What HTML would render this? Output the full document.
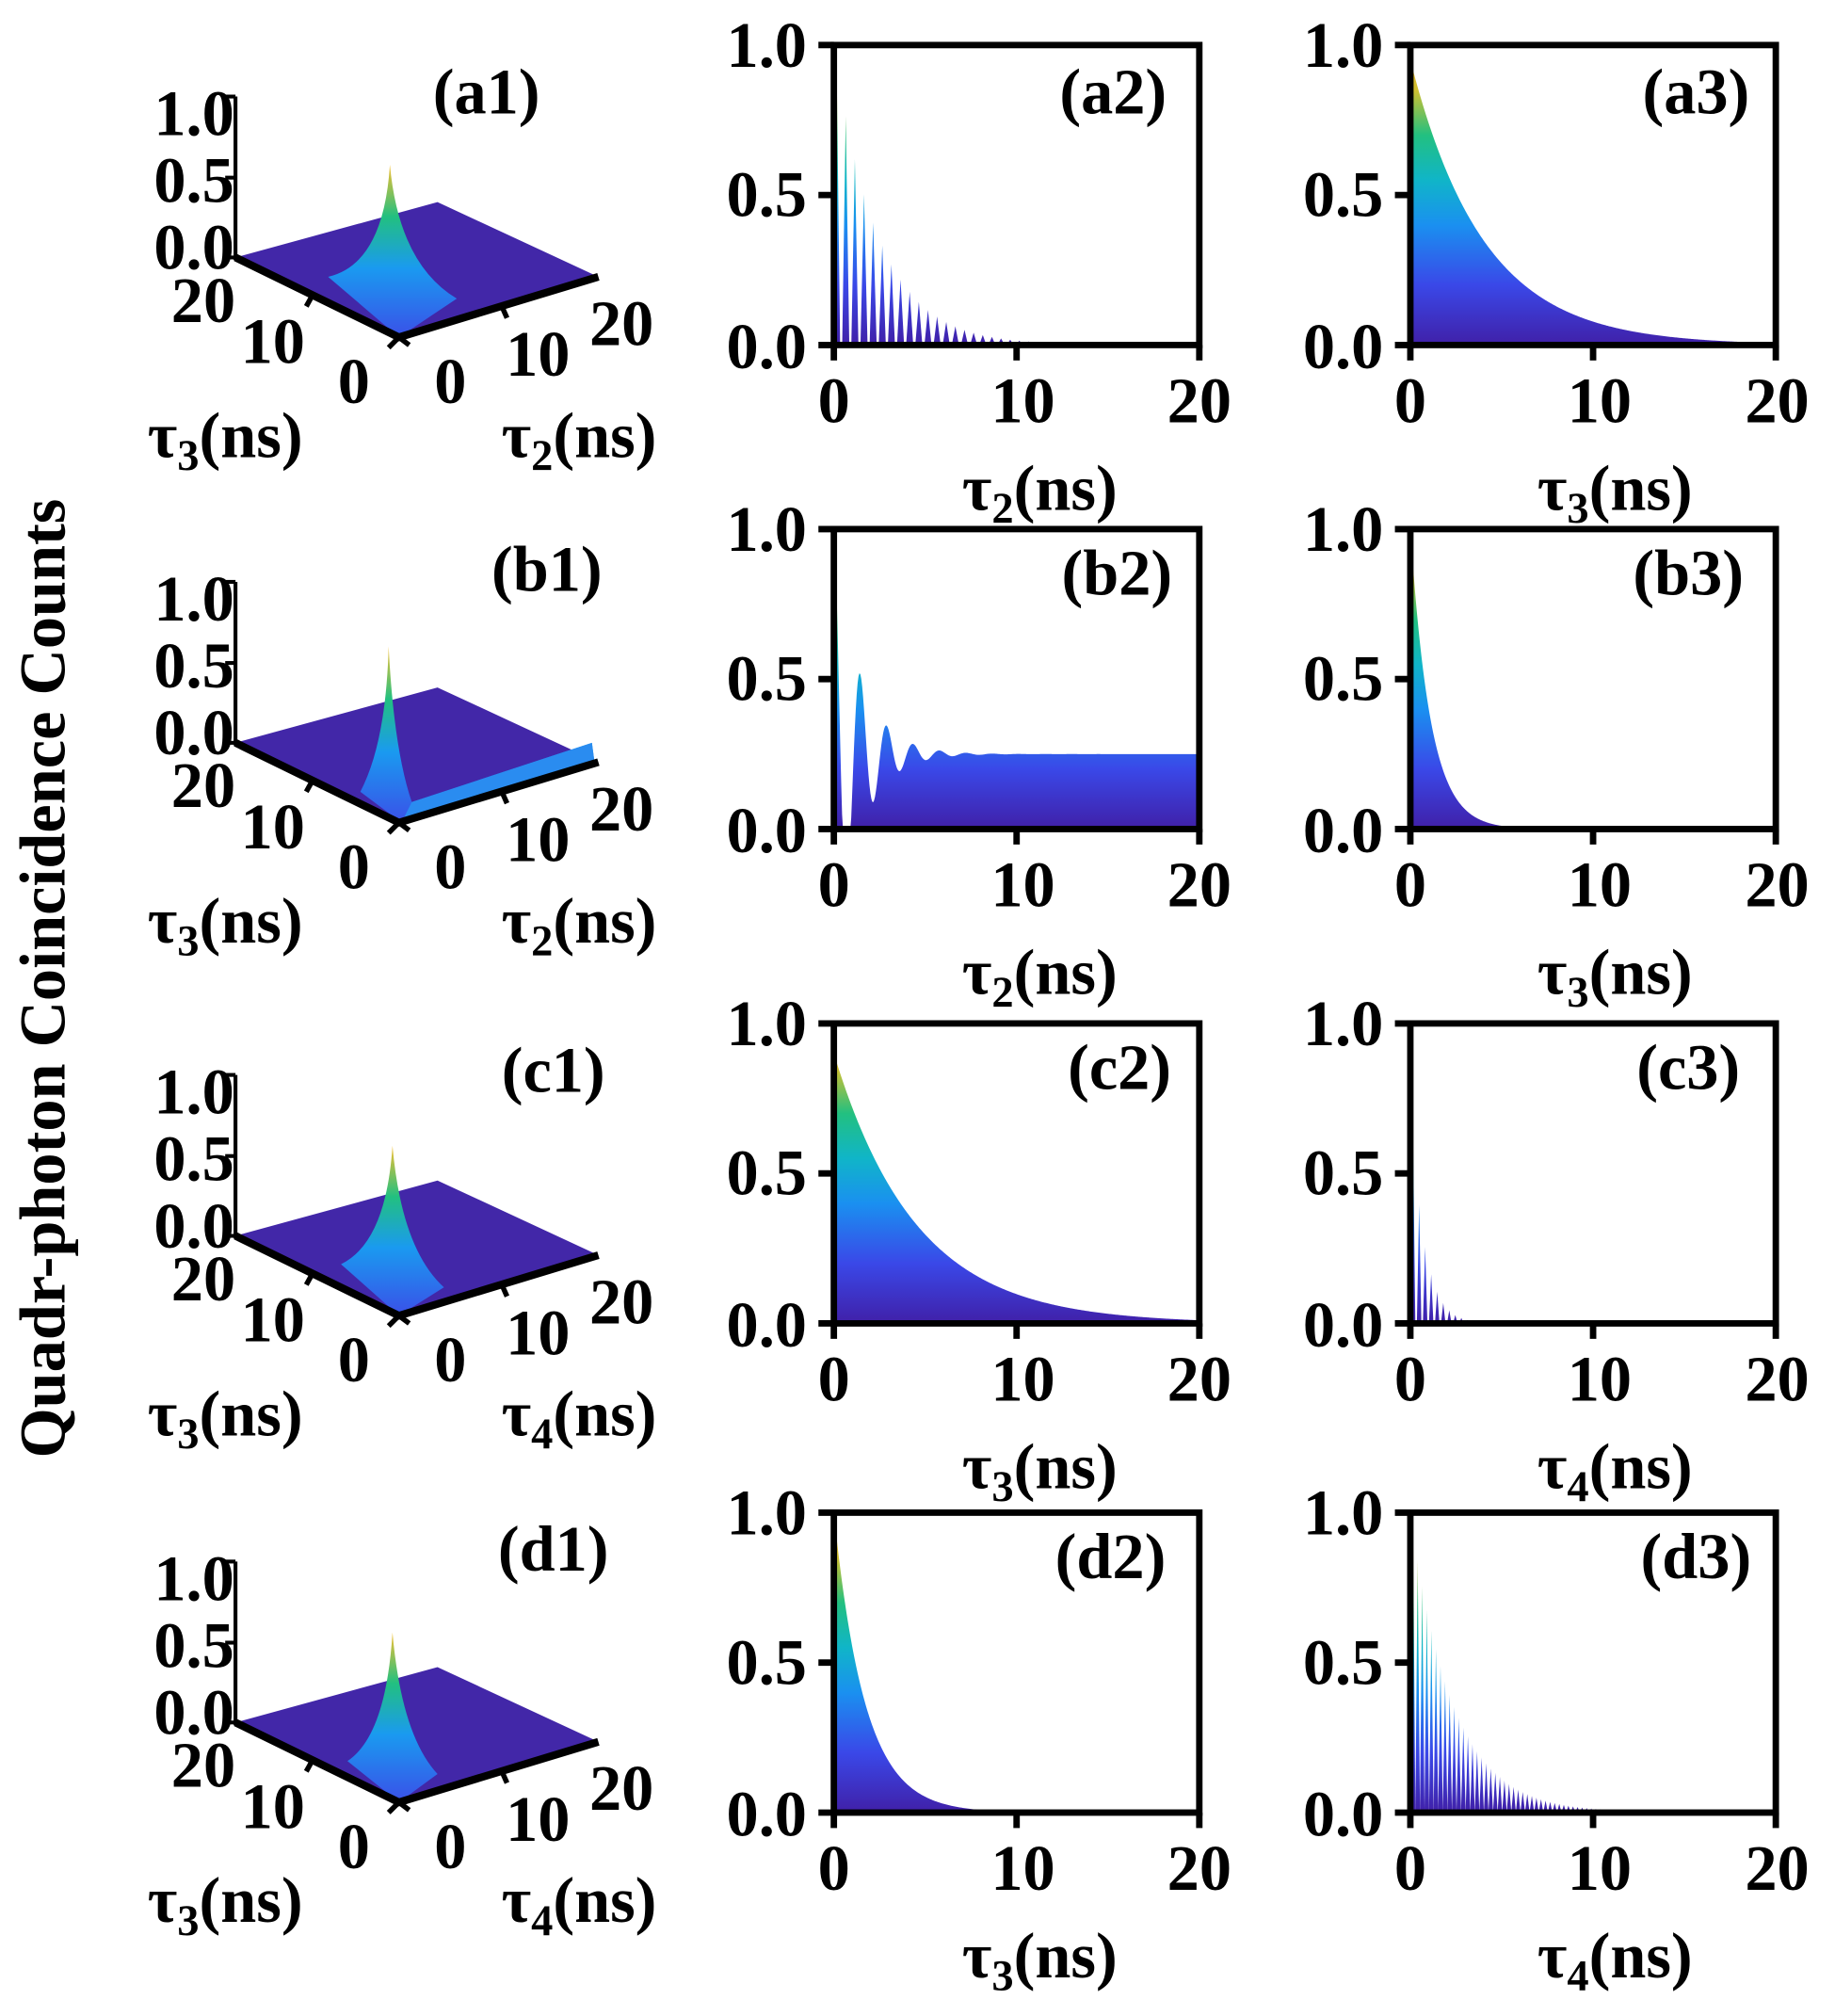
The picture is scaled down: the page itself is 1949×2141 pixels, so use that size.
<!DOCTYPE html>
<html><head><meta charset="utf-8"><style>
html,body{margin:0;padding:0;background:#fff;}
svg{display:block;}
text{font-family:"Liberation Serif",serif;font-weight:bold;fill:#000;}
</style></head><body>
<svg id="s" width="1949" height="2141" viewBox="0 0 1426 1566" preserveAspectRatio="none" xmlns="http://www.w3.org/2000/svg">
<defs>
<linearGradient id="g0" gradientUnits="userSpaceOnUse" x1="0" y1="268" x2="0" y2="35">
<stop offset="0" stop-color="#4020a8"/><stop offset="0.2" stop-color="#3a48e8"/><stop offset="0.4" stop-color="#1a90f0"/><stop offset="0.55" stop-color="#10b5c8"/><stop offset="0.7" stop-color="#22c080"/><stop offset="0.85" stop-color="#d0c030"/><stop offset="1" stop-color="#f8b030"/></linearGradient>
<linearGradient id="g1" href="#g0" gradientUnits="userSpaceOnUse" x1="0" y1="644" x2="0" y2="411"/>
<linearGradient id="g2" href="#g0" gradientUnits="userSpaceOnUse" x1="0" y1="1028" x2="0" y2="795"/>
<linearGradient id="g3" href="#g0" gradientUnits="userSpaceOnUse" x1="0" y1="1408" x2="0" y2="1175"/>
<linearGradient id="pk" x1="0" y1="1" x2="0" y2="0">
<stop offset="0" stop-color="#3a50e8"/><stop offset="0.4" stop-color="#1a9af0"/><stop offset="0.7" stop-color="#22c080"/><stop offset="1" stop-color="#f8c030"/></linearGradient>
</defs>
<g id="plots"></g>

<text transform="translate(50,760) rotate(-90)" font-size="50" text-anchor="middle">Quadr-photon Coincidence Counts</text>

<g font-size="50" text-anchor="end">
<text x="627" y="52">1.0</text><text x="627" y="168">0.5</text><text x="627" y="286">0.0</text>
<text x="1075" y="52">1.0</text><text x="1075" y="168">0.5</text><text x="1075" y="286">0.0</text>
<text x="627" y="428">1.0</text><text x="627" y="544">0.5</text><text x="627" y="662">0.0</text>
<text x="1075" y="428">1.0</text><text x="1075" y="544">0.5</text><text x="1075" y="662">0.0</text>
<text x="627" y="812">1.0</text><text x="627" y="928">0.5</text><text x="627" y="1046">0.0</text>
<text x="1075" y="812">1.0</text><text x="1075" y="928">0.5</text><text x="1075" y="1046">0.0</text>
<text x="627" y="1192">1.0</text><text x="627" y="1308">0.5</text><text x="627" y="1426">0.0</text>
<text x="1075" y="1192">1.0</text><text x="1075" y="1308">0.5</text><text x="1075" y="1426">0.0</text>
</g>
<g font-size="50" text-anchor="middle">
<text x="648" y="328">0</text><text x="795" y="328">10</text><text x="932" y="328">20</text>
<text x="1096" y="328">0</text><text x="1243" y="328">10</text><text x="1381" y="328">20</text>
<text x="648" y="704">0</text><text x="795" y="704">10</text><text x="932" y="704">20</text>
<text x="1096" y="704">0</text><text x="1243" y="704">10</text><text x="1381" y="704">20</text>
<text x="648" y="1088">0</text><text x="795" y="1088">10</text><text x="932" y="1088">20</text>
<text x="1096" y="1088">0</text><text x="1243" y="1088">10</text><text x="1381" y="1088">20</text>
<text x="648" y="1468">0</text><text x="795" y="1468">10</text><text x="932" y="1468">20</text>
<text x="1096" y="1468">0</text><text x="1243" y="1468">10</text><text x="1381" y="1468">20</text>
</g>
<g font-size="50" text-anchor="middle">
<text x="808" y="396">τ<tspan font-size="34" dy="10">2</tspan><tspan dy="-10">(ns)</tspan></text>
<text x="1255" y="396">τ<tspan font-size="34" dy="10">3</tspan><tspan dy="-10">(ns)</tspan></text>
<text x="808" y="772">τ<tspan font-size="34" dy="10">2</tspan><tspan dy="-10">(ns)</tspan></text>
<text x="1255" y="772">τ<tspan font-size="34" dy="10">3</tspan><tspan dy="-10">(ns)</tspan></text>
<text x="808" y="1156">τ<tspan font-size="34" dy="10">3</tspan><tspan dy="-10">(ns)</tspan></text>
<text x="1255" y="1156">τ<tspan font-size="34" dy="10">4</tspan><tspan dy="-10">(ns)</tspan></text>
<text x="808" y="1536">τ<tspan font-size="34" dy="10">3</tspan><tspan dy="-10">(ns)</tspan></text>
<text x="1255" y="1536">τ<tspan font-size="34" dy="10">4</tspan><tspan dy="-10">(ns)</tspan></text>
</g>
<g font-size="50" text-anchor="middle">
<text x="865" y="88">(a2)</text><text x="1318" y="88">(a3)</text>
<text x="868" y="462">(b2)</text><text x="1312" y="462">(b3)</text>
<text x="870" y="846">(c2)</text><text x="1312" y="846">(c3)</text>
<text x="863" y="1226">(d2)</text><text x="1318" y="1226">(d3)</text>
</g>

<g font-size="50">
<g text-anchor="end"><text x="182" y="105">1.0</text><text x="182" y="157">0.5</text><text x="182" y="209">0.0</text></g>
<g text-anchor="middle"><text x="158" y="250">20</text><text x="212" y="282">10</text><text x="275" y="313">0</text><text x="350" y="313">0</text><text x="418" y="292">10</text><text x="483" y="268">20</text>
<text x="378" y="88">(a1)</text>
<text x="175" y="355">τ<tspan font-size="34" dy="10">3</tspan><tspan dy="-10">(ns)</tspan></text>
<text x="450" y="355">τ<tspan font-size="34" dy="10">2</tspan><tspan dy="-10">(ns)</tspan></text></g>
</g>
<g font-size="50" transform="translate(0,377)">
<g text-anchor="end"><text x="182" y="105">1.0</text><text x="182" y="157">0.5</text><text x="182" y="209">0.0</text></g>
<g text-anchor="middle"><text x="158" y="250">20</text><text x="212" y="282">10</text><text x="275" y="313">0</text><text x="350" y="313">0</text><text x="418" y="292">10</text><text x="483" y="268">20</text>
<text x="425" y="82">(b1)</text>
<text x="175" y="355">τ<tspan font-size="34" dy="10">3</tspan><tspan dy="-10">(ns)</tspan></text>
<text x="450" y="355">τ<tspan font-size="34" dy="10">2</tspan><tspan dy="-10">(ns)</tspan></text></g>
</g>
<g font-size="50" transform="translate(0,760)">
<g text-anchor="end"><text x="182" y="105">1.0</text><text x="182" y="157">0.5</text><text x="182" y="209">0.0</text></g>
<g text-anchor="middle"><text x="158" y="250">20</text><text x="212" y="282">10</text><text x="275" y="313">0</text><text x="350" y="313">0</text><text x="418" y="292">10</text><text x="483" y="268">20</text>
<text x="430" y="88">(c1)</text>
<text x="175" y="355">τ<tspan font-size="34" dy="10">3</tspan><tspan dy="-10">(ns)</tspan></text>
<text x="450" y="355">τ<tspan font-size="34" dy="10">4</tspan><tspan dy="-10">(ns)</tspan></text></g>
</g>
<g font-size="50" transform="translate(0,1138)">
<g text-anchor="end"><text x="182" y="105">1.0</text><text x="182" y="157">0.5</text><text x="182" y="209">0.0</text></g>
<g text-anchor="middle"><text x="158" y="250">20</text><text x="212" y="282">10</text><text x="275" y="313">0</text><text x="350" y="313">0</text><text x="418" y="292">10</text><text x="483" y="268">20</text>
<text x="430" y="82">(d1)</text>
<text x="175" y="355">τ<tspan font-size="34" dy="10">3</tspan><tspan dy="-10">(ns)</tspan></text>
<text x="450" y="355">τ<tspan font-size="34" dy="10">4</tspan><tspan dy="-10">(ns)</tspan></text></g>
</g>
</svg>
<script>
(function(){
var G=document.getElementById("plots"),h="";
var X0=[648,1096],Y0=[35,411,795,1175],W=284,H=233;
function box(c,r){var x=X0[c],y=Y0[r];
 h+='<rect x="'+x+'" y="'+y+'" width="'+W+'" height="'+H+'" fill="none" stroke="#000" stroke-width="5"/>';
 [0,0.5,1].forEach(function(v){var yy=y+H-v*H;h+='<line x1="'+(x-12)+'" y1="'+yy+'" x2="'+x+'" y2="'+yy+'" stroke="#000" stroke-width="5"/>';});
 [0,10,20].forEach(function(v){var xx=x+v/20*W;h+='<line x1="'+xx+'" y1="'+(y+H)+'" x2="'+xx+'" y2="'+(y+H+12)+'" stroke="#000" stroke-width="5"/>';});}
function area(c,r,f){var x=X0[c],yb=Y0[r]+H,d='M'+x+','+yb;
 for(var i=0;i<=400;i++){var t=i/20;d+=' L'+(x+t/20*W).toFixed(2)+','+(yb-Math.max(0,f(t))*H).toFixed(2);}
 d+=' L'+(x+W)+','+yb+'Z';h+='<path d="'+d+'" fill="url(#g'+r+')"/>';}
function comb(c,r,sp,f,w){var x=X0[c],yb=Y0[r]+H;
 for(var t=0.15;t<20;t+=sp){var v=f(t);if(v<0.004)break;var xx=x+t/20*W;
 h+='<path d="M'+(xx-w/2).toFixed(2)+','+yb+' L'+xx.toFixed(2)+','+(yb-v*H).toFixed(2)+' L'+(xx+w/2).toFixed(2)+','+yb+'Z" fill="url(#g'+r+')"/>';}}
comb(0,0,0.5,function(t){return Math.exp(-t/2.4);},5.5);
area(1,0,function(t){return 0.95*Math.exp(-t/4);});
area(0,1,function(t){return 0.25+0.75*Math.exp(-t/1.4)*Math.cos(2*Math.PI*t/1.45);});
area(1,1,function(t){return Math.exp(-t/1.1);});
area(0,2,function(t){return 0.9*Math.exp(-t/4.5);});
comb(1,2,0.33,function(t){return 0.75*Math.exp(-t/0.75);},3.5);
area(0,3,function(t){return Math.exp(-t/1.7);});
comb(1,3,0.25,function(t){return Math.exp(-t/2.3);},3.6);
for(var c=0;c<2;c++)for(var r=0;r<4;r++)box(c,r);
var dys=[0,377,760,1138];
dys.forEach(function(dy,k){
 h+='<g transform="translate(0,'+dy+')">';
 h+='<polygon points="183,200 310,262 465,215 340,157" fill="#4227a8"/>';
 if(k==0){h+='<path d="M255,215 Q298,205 303,128 Q310,205 355,232 L310,262 Z" fill="url(#pk)"/>';}
 if(k==1){h+='<path d="M280,238 Q300,200 302,125 Q306,205 320,246 L460,200 L462,215 L312,262 Z" fill="url(#pk)"/><path d="M320,246 L460,200 L462,215 L312,262 Z" fill="#2a8cf0"/>';}
 if(k==2){h+='<path d="M265,222 Q300,205 305,130 Q312,210 345,240 L310,262 Z" fill="url(#pk)"/>';}
 if(k==3){h+='<path d="M270,230 Q300,210 305,130 Q312,210 340,240 L310,262 Z" fill="url(#pk)"/>';}
 h+='<polyline points="183,200 310,262 465,215" fill="none" stroke="#000" stroke-width="6"/>';
 h+='<line x1="183" y1="75" x2="183" y2="202" stroke="#000" stroke-width="3"/>';
 [75,138,200].forEach(function(y){h+='<line x1="175" y1="'+y+'" x2="183" y2="'+y+'" stroke="#000" stroke-width="3"/>';});
 h+='<line x1="243" y1="229" x2="238" y2="238" stroke="#000" stroke-width="4"/><line x1="390" y1="238" x2="394" y2="247" stroke="#000" stroke-width="4"/>';
 h+='<line x1="310" y1="262" x2="302" y2="270" stroke="#000" stroke-width="4"/><line x1="310" y1="262" x2="318" y2="268" stroke="#000" stroke-width="4"/>';
 h+='</g>';});
G.innerHTML=h;
})();
</script>
</body></html>
